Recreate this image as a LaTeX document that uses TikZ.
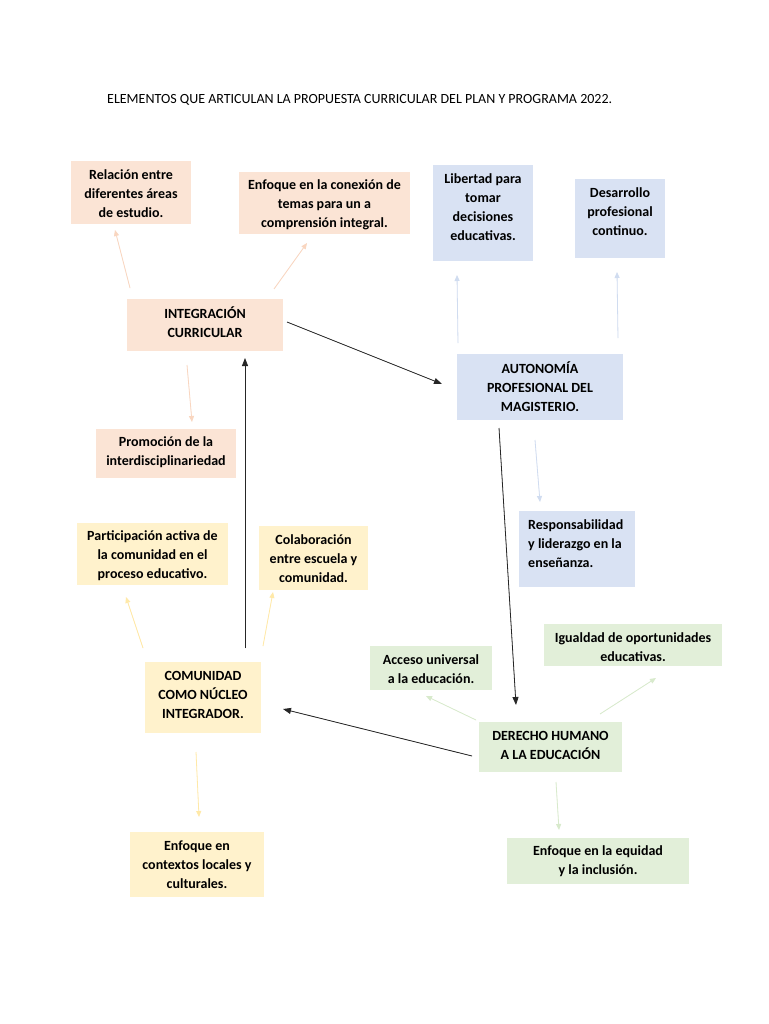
\documentclass[tikz,border=0pt]{standalone}
\usepackage{fontspec}
\setmainfont{Carlito}
\usetikzlibrary{arrows.meta}
\definecolor{peach}{HTML}{FBE4D5}
\definecolor{lblue}{HTML}{D9E2F3}
\definecolor{lyellow}{HTML}{FFF2CC}
\definecolor{lgreen}{HTML}{E2EFD9}
\definecolor{apeach}{HTML}{F9D6C0}
\definecolor{ablue}{HTML}{D0DCF0}
\definecolor{ayellow}{HTML}{FFE9A8}
\definecolor{agreen}{HTML}{D8EACC}
% name, colour, left, top, right, bottom, lines, text
\newcommand\diagbox[8]{%
  \node[boxfill, fill=#2, minimum width={#5pt-#3pt}, minimum height={#6pt-#4pt}] (#1) at ({(#3+#5)/2},{(#4+#6)/2}) {};
  \node[box] (#1T) at ({(#3+#5)/2},{#4+14+9.5*(#7-1)}) {#8};}
\begin{document}
\begin{tikzpicture}[x=1pt,y=-1pt,
  boxfill/.style={inner sep=0pt, draw=none},
  box/.style={inner sep=0pt, font=\bfseries\fontsize{14}{19}\selectfont, align=center},
  pale/.style={line width=0.8pt, -{Triangle[length=6pt,width=5pt]}},
  main/.style={line width=0.8pt, draw=black!85, -{Triangle[length=8pt,width=6pt]}}]
\fill[white] (0,0) rectangle (768,1024);
\useasboundingbox (0,0) rectangle (768,1024);

\node[font=\fontsize{14}{16}\selectfont, anchor=west, inner sep=0pt] (title) at (107,100) {ELEMENTOS QUE ARTICULAN LA PROPUESTA CURRICULAR DEL PLAN Y PROGRAMA 2022.};

% peach group
\diagbox{rel}{peach}{71}{161}{191}{224}{3}{Relación entre\\diferentes áreas\\de estudio.}
\diagbox{enf}{peach}{239}{172}{410}{234}{3}{Enfoque en la conexión de\\temas para un a\\comprensión integral.}
\diagbox{integ}{peach}{127}{299}{283}{351}{2}{INTEGRACIÓN\\CURRICULAR}
\diagbox{prom}{peach}{96}{429}{236}{478}{2}{Promoción de la\\interdisciplinariedad}

% blue group
\diagbox{lib}{lblue}{433}{165}{533}{261}{4}{Libertad para\\tomar\\decisiones\\educativas.}
\diagbox{des}{lblue}{575}{179}{665}{258}{3}{Desarrollo\\profesional\\continuo.}
\diagbox{auto}{lblue}{457}{354}{623}{420}{3}{AUTONOMÍA\\PROFESIONAL DEL\\MAGISTERIO.}
\node[boxfill, fill=lblue, minimum width=116pt, minimum height=76pt] (resp) at (577,549) {};
\node[box, align=left, anchor=west] (respT) at (528,{511+14+19}) {Responsabilidad\\y liderazgo en la\\enseñanza.};

% yellow group
\diagbox{part}{lyellow}{77}{523}{228}{585}{3}{Participación activa de\\la comunidad en el\\proceso educativo.}
\diagbox{colab}{lyellow}{259}{526}{368}{590}{3}{Colaboración\\entre escuela y\\comunidad.}
\diagbox{comu}{lyellow}{145}{662}{261}{733}{3}{COMUNIDAD\\COMO NÚCLEO\\INTEGRADOR.}
\diagbox{ctx}{lyellow}{130}{832}{264}{897}{3}{Enfoque en\\contextos locales y\\culturales.}

% green group
\diagbox{igu}{lgreen}{544}{624}{722}{666}{2}{Igualdad de oportunidades\\educativas.}
\diagbox{acc}{lgreen}{370}{646}{492}{690}{2}{Acceso universal\\a la educación.}
\diagbox{der}{lgreen}{479}{722}{622}{772}{2}{DERECHO HUMANO\\A LA EDUCACIÓN}
\diagbox{equ}{lgreen}{507}{838}{689}{884}{2}{Enfoque en la equidad\\y la inclusión.}

% coordinates for connector ends
\coordinate (p1s) at (130,288); \coordinate (p1e) at (115,230);
\coordinate (p2s) at (274,289); \coordinate (p2e) at (307,243);
\coordinate (p3s) at (187,365); \coordinate (p3e) at (192,422);
\coordinate (b1s) at (458,343); \coordinate (b1e) at (457,275);
\coordinate (b2s) at (618,338); \coordinate (b2e) at (617,272);
\coordinate (b3s) at (535,440); \coordinate (b3e) at (540,502);
\coordinate (y1s) at (143,648); \coordinate (y1e) at (126,597);
\coordinate (y2s) at (263,646); \coordinate (y2e) at (273,592);
\coordinate (y3s) at (196,752); \coordinate (y3e) at (199,817);
\coordinate (g1s) at (476,720); \coordinate (g1e) at (426,696);
\coordinate (g2s) at (600,714); \coordinate (g2e) at (656,678);
\coordinate (g3s) at (556,782); \coordinate (g3e) at (559,830);
\coordinate (m1s) at (287,322); \coordinate (m1e) at (442,384);
\coordinate (m2s) at (499,428); \coordinate (m2e) at (516,705);
\coordinate (m3s) at (472,756); \coordinate (m3e) at (283,709);
\coordinate (m4s) at (245,648); \coordinate (m4e) at (245,358);

\draw[pale, draw=apeach, fill=apeach] (p1s) -- (p1e);
\draw[pale, draw=apeach, fill=apeach] (p2s) -- (p2e);
\draw[pale, draw=apeach, fill=apeach] (p3s) -- (p3e);
\draw[pale, draw=ablue, fill=ablue] (b1s) -- (b1e);
\draw[pale, draw=ablue, fill=ablue] (b2s) -- (b2e);
\draw[pale, draw=ablue, fill=ablue] (b3s) -- (b3e);
\draw[pale, draw=ayellow, fill=ayellow] (y1s) -- (y1e);
\draw[pale, draw=ayellow, fill=ayellow] (y2s) -- (y2e);
\draw[pale, draw=ayellow, fill=ayellow] (y3s) -- (y3e);
\draw[pale, draw=agreen, fill=agreen] (g1s) -- (g1e);
\draw[pale, draw=agreen, fill=agreen] (g2s) -- (g2e);
\draw[pale, draw=agreen, fill=agreen] (g3s) -- (g3e);

\draw[main, fill=black] (m1s) -- (m1e);
\draw[main, fill=black] (m2s) -- (m2e);
\draw[main, fill=black] (m3s) -- (m3e);
\draw[main, fill=black] (m4s) -- (m4e);
\end{tikzpicture}
\end{document}
